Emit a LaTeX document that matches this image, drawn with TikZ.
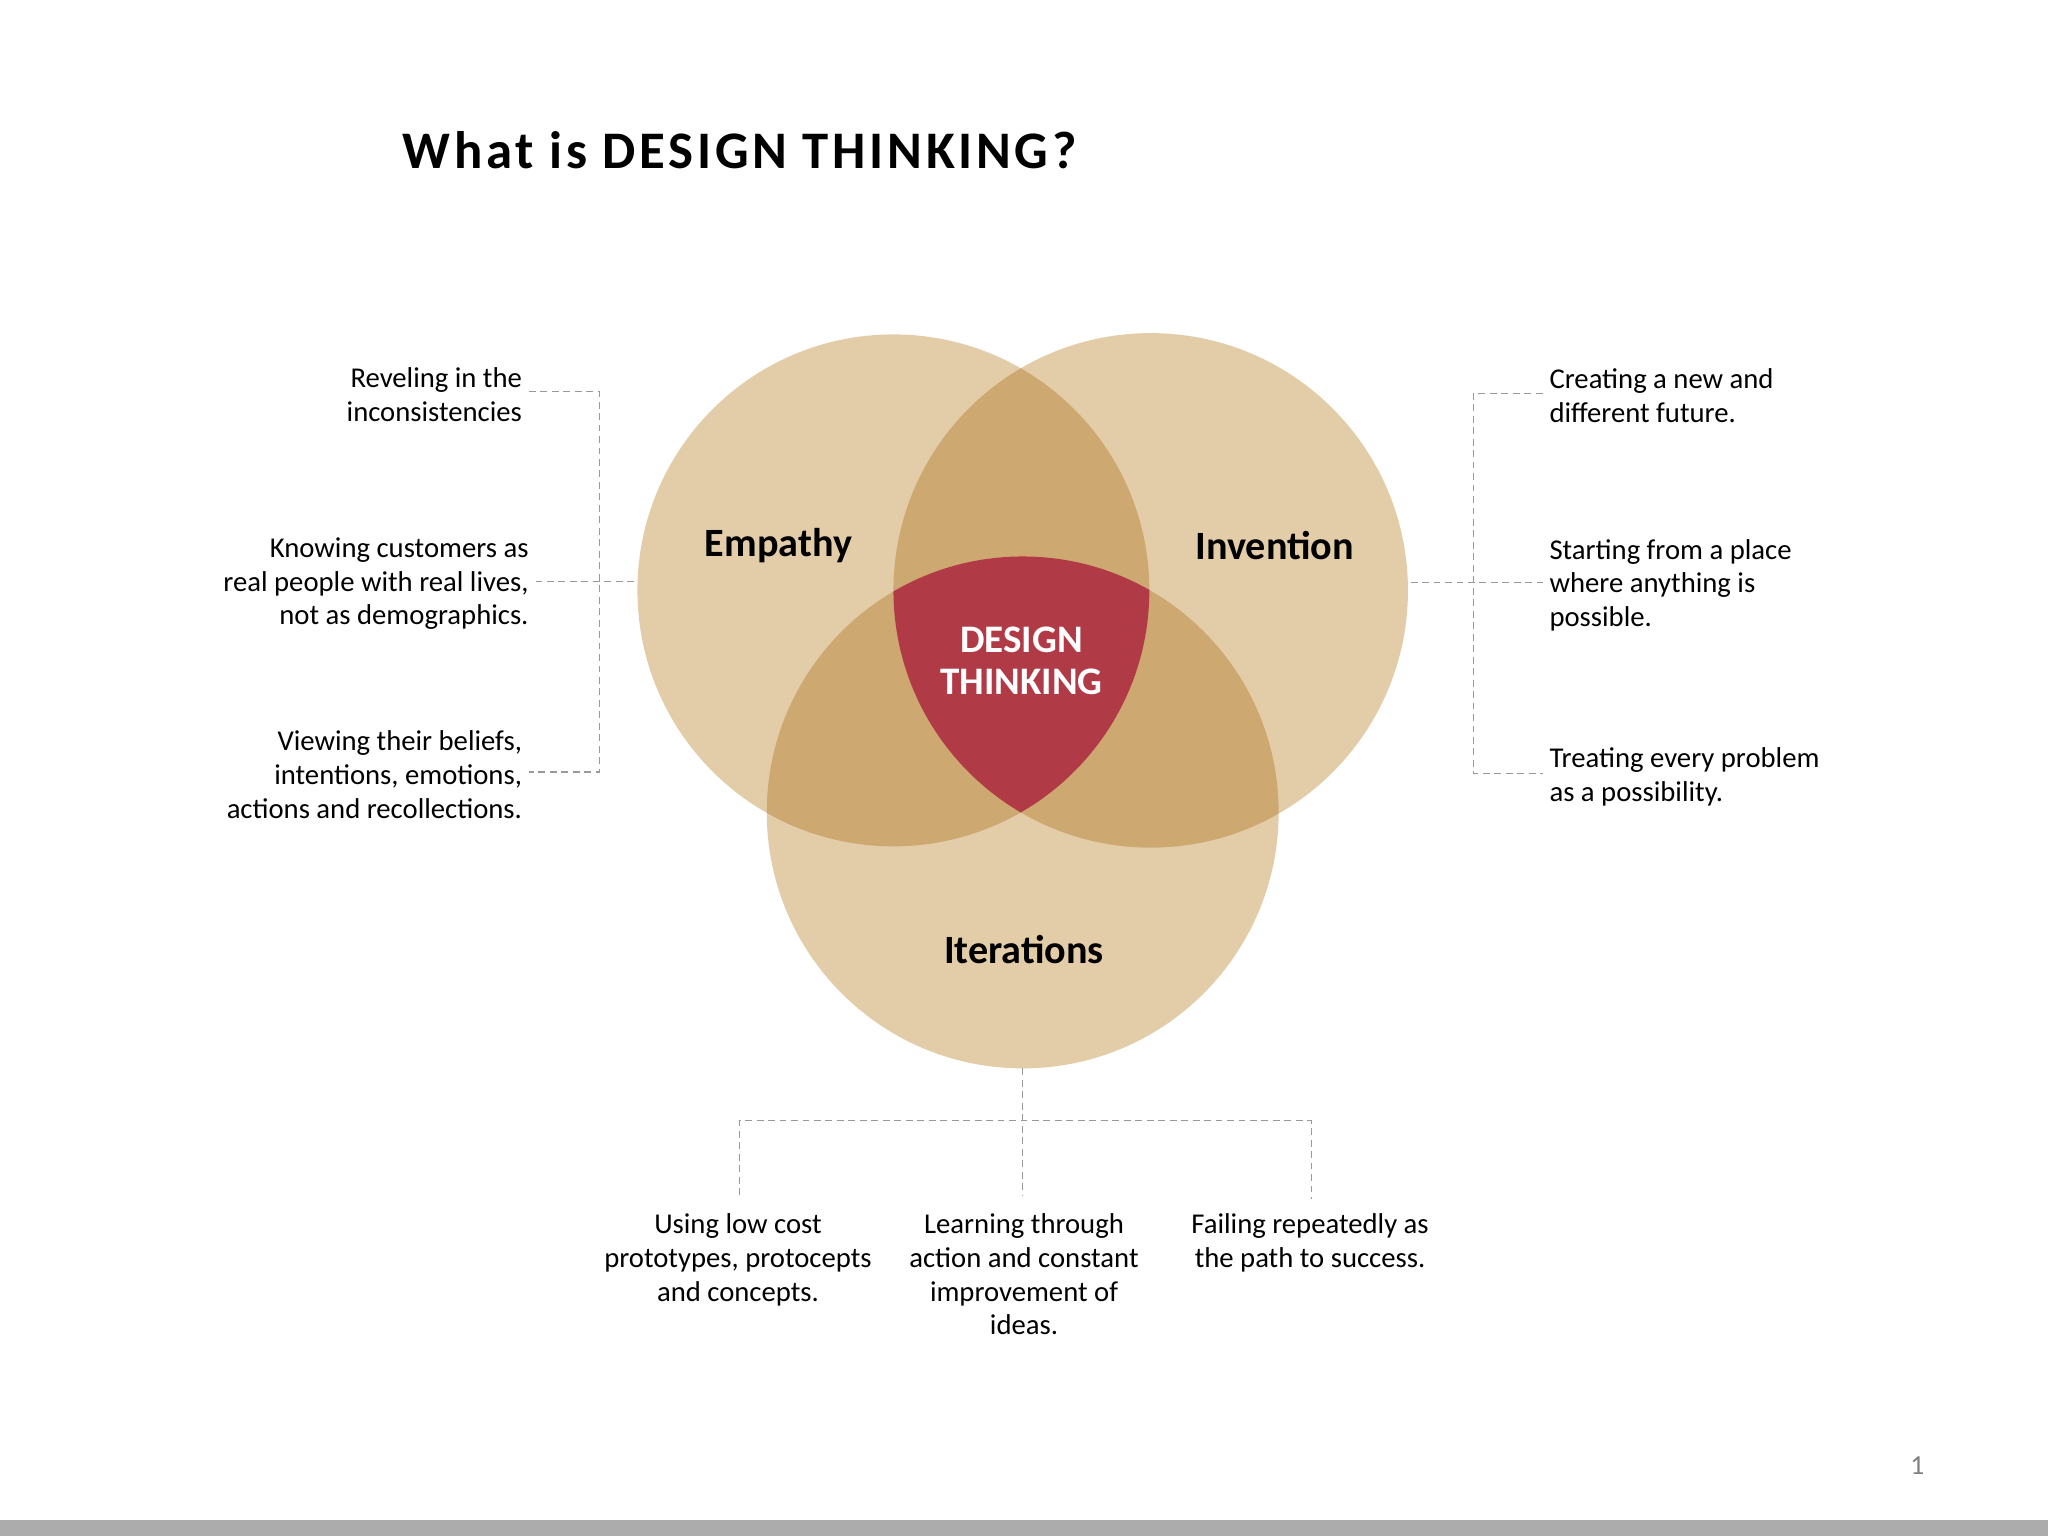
\documentclass[tikz,border=0pt]{standalone}
\usepackage{fontspec}
\setmainfont{Carlito}
\newfontfamily\titlefont[LetterSpace=7]{Carlito}
\begin{document}
\begin{tikzpicture}[x=0.02cm,y=-0.02cm,
  txt/.style={font=\fontsize{12.5}{14.7}\selectfont,inner sep=0pt},
  lab/.style={font=\fontsize{17.5}{20}\selectfont\bfseries,inner sep=0pt},
  dashline/.style={draw=gray!80,densely dashed,line width=0.5pt}]
\definecolor{light}{HTML}{E3CDA9}
\definecolor{mid}{HTML}{CDA870}
\definecolor{dred}{HTML}{B13A47}
\useasboundingbox (0,0) rectangle (1568,1176);
\fill[white] (0,0) rectangle (1568,1176);
\fill[gray!65] (0,1164) rectangle (1568,1176);
\node[text=gray] (pg) at (1468,1122) {\fontsize{12}{14}\selectfont 1};
\node[anchor=west,inner sep=0pt] (title) at (308,115) {\fontsize{23}{28}\selectfont\titlefont\bfseries What is DESIGN THINKING?};
% circles
\coordinate (cE) at (684,452);
\coordinate (cI) at (881,452);
\coordinate (cT) at (783,622);
\fill[light] (cE) circle[radius=3.92cm];
\fill[light] (cI) circle[radius=3.94cm];
\fill[light] (cT) circle[radius=3.92cm];
\begin{scope}\clip (cE) circle[radius=3.92cm]; \fill[mid] (cI) circle[radius=3.94cm]; \fill[mid] (cT) circle[radius=3.92cm];\end{scope}
\begin{scope}\clip (cI) circle[radius=3.94cm]; \fill[mid] (cT) circle[radius=3.92cm];\end{scope}
\begin{scope}\clip (cE) circle[radius=3.92cm]; \clip (cI) circle[radius=3.94cm]; \fill[dred] (cT) circle[radius=3.92cm];\end{scope}
\node[lab] (emp) at (596,418) {Empathy};
\node[lab] (inv) at (976,418) {Invention};
\node[lab] (itr) at (784,727) {Iterations};
\node[text=white,align=center,inner sep=0pt,font=\fontsize{17}{18.5}\selectfont\bfseries] (dt) at (782,506) {DESIGN\\THINKING};
% left
\node[txt,anchor=east,align=right] (l1) at (400,302) {Reveling in the\\inconsistencies};
\node[txt,anchor=east,align=right] (l2) at (405,447) {Knowing customers as\\real people with real lives,\\not as demographics.};
\node[txt,anchor=east,align=right] (l3) at (400,593) {Viewing their beliefs,\\intentions, emotions,\\actions and recollections.};
\coordinate (lv1) at (459,300); \coordinate (lv3) at (459,591);
\coordinate (lc) at (488,445);
\draw[dashline] (405,300) -- (lv1) -- (lv3) -- (405,591);
\draw[dashline] (410,445) -- (lc);
% right
\node[txt,anchor=west,align=left] (r1) at (1186,303) {Creating a new and\\different future.};
\node[txt,anchor=west,align=left] (r2) at (1186,448) {Starting from a place\\where anything is\\possible.};
\node[txt,anchor=west,align=left] (r3) at (1186,595) {Treating every problem\\as a possibility.};
\coordinate (rv1) at (1128,301); \coordinate (rv3) at (1128,592);
\draw[dashline] (1181,301) -- (rv1) -- (rv3) -- (1181,592);
\draw[dashline] (1080,446) -- (1181,446);
% bottom
\node[txt,anchor=north,align=center] (b1) at (565,929) {Using low cost\\prototypes, protocepts\\and concepts.};
\node[txt,anchor=north,align=center] (b2) at (784,929) {Learning through\\action and constant\\improvement of\\ideas.};
\node[txt,anchor=north,align=center] (b3) at (1003,929) {Failing repeatedly as\\the path to success.};
\coordinate (bt) at (783,818); \coordinate (bl) at (566,858); \coordinate (br) at (1004,858);
\draw[dashline] (bt) -- (783,915);
\draw[dashline] (566,915) -- (bl) -- (br) -- (1004,918);
\end{tikzpicture}
\end{document}
